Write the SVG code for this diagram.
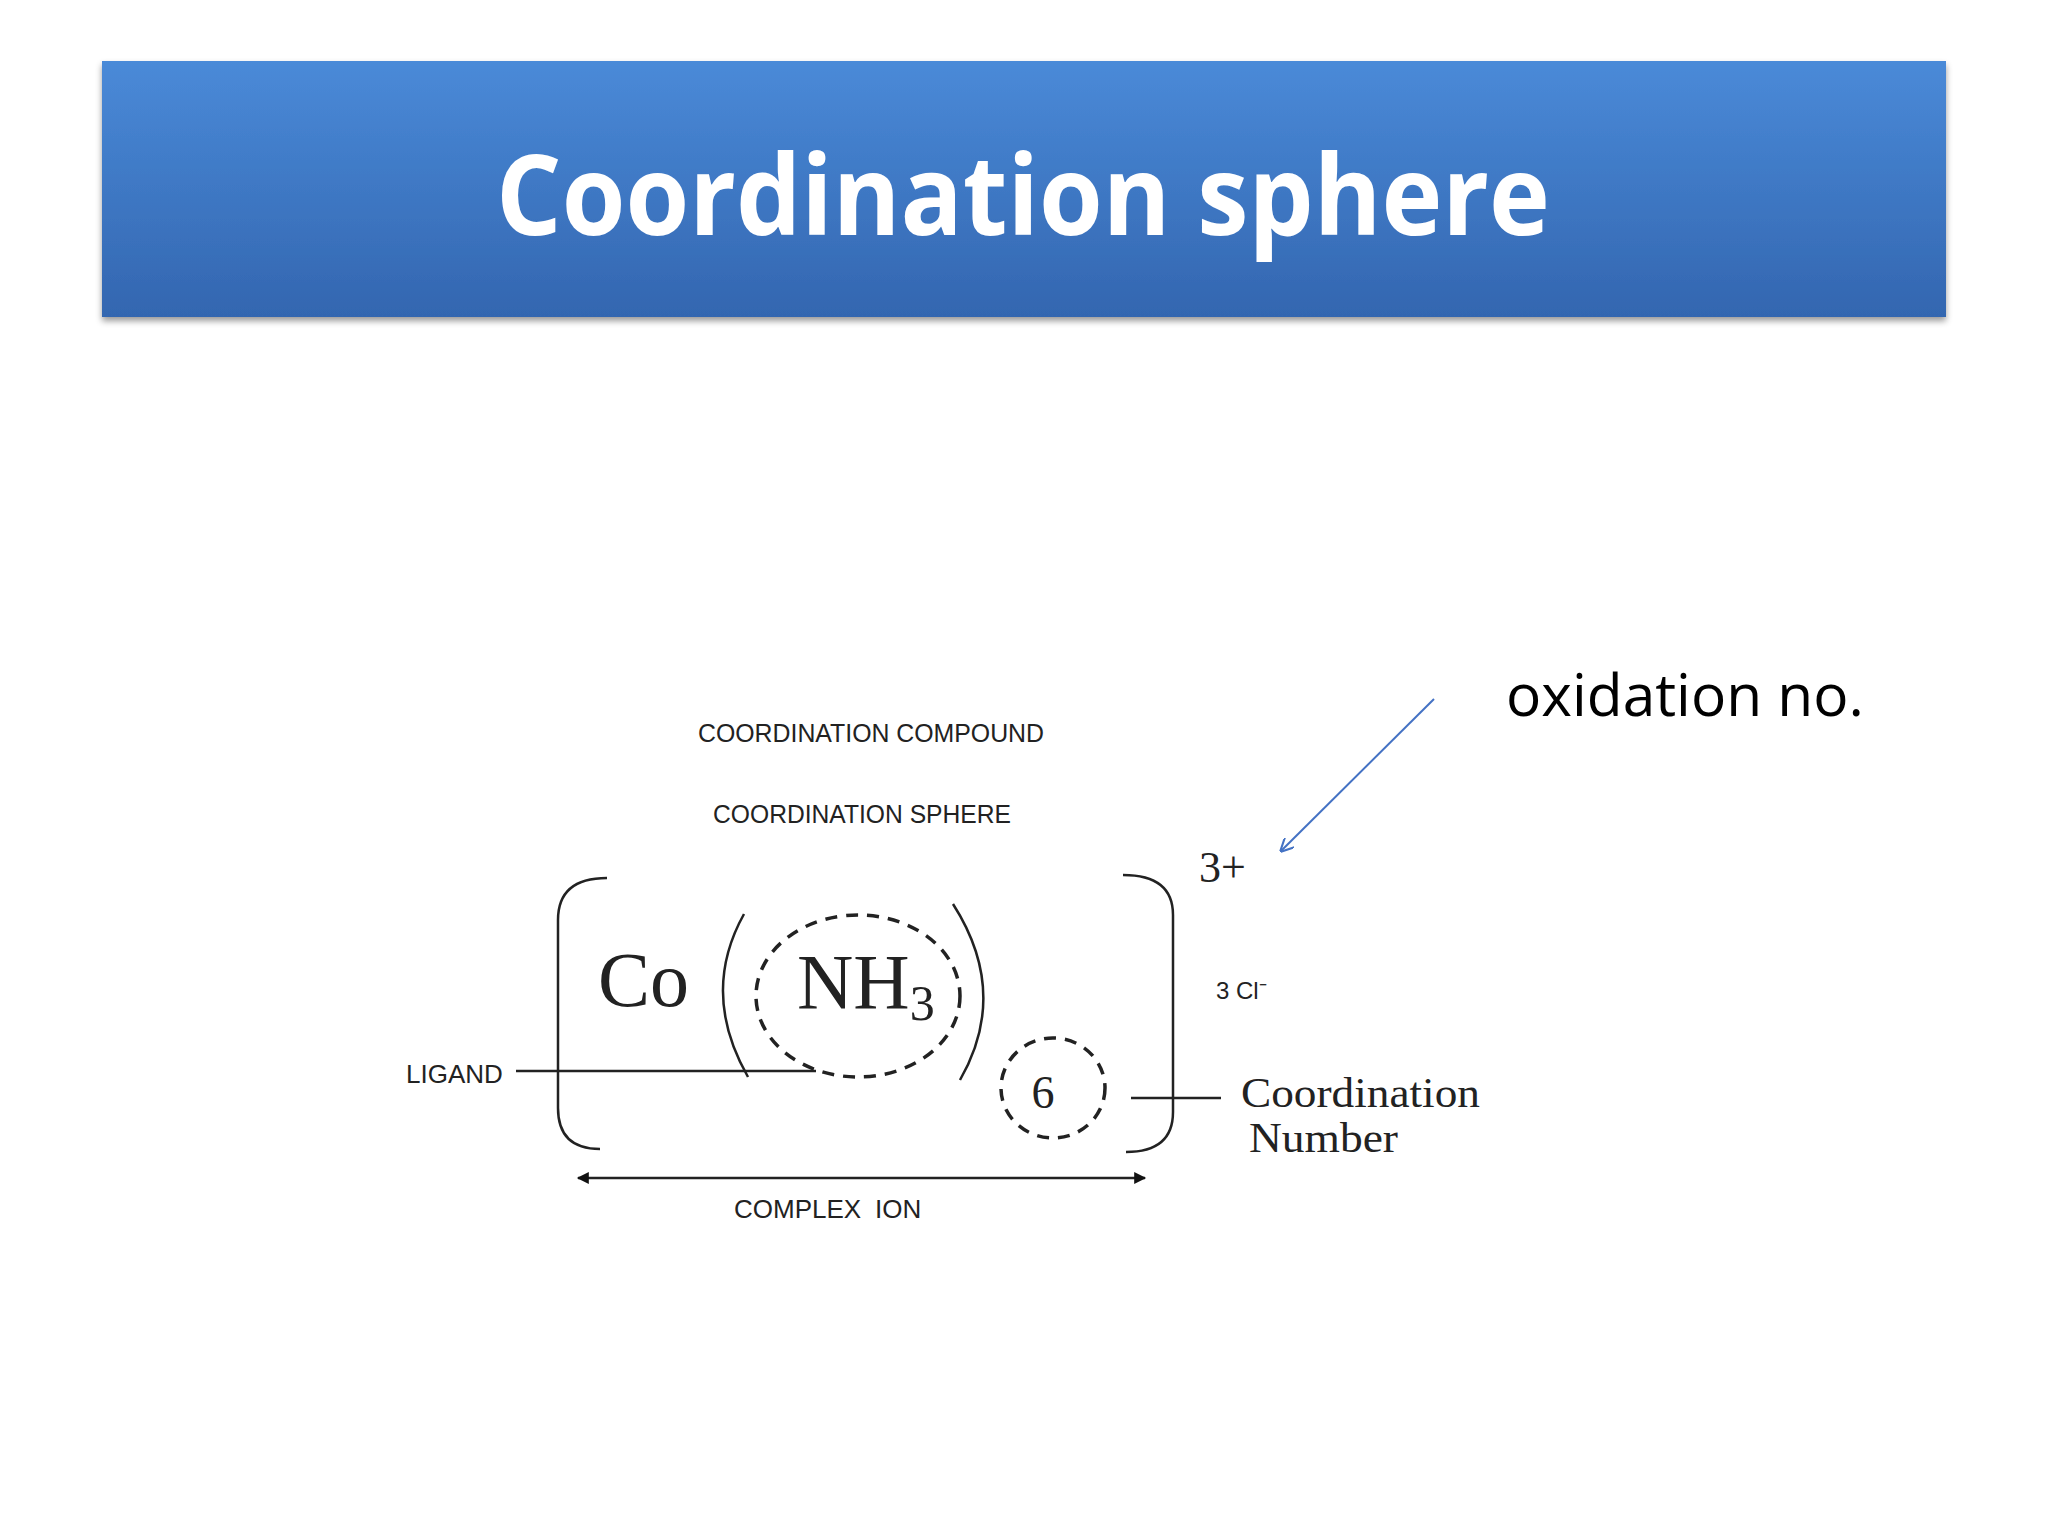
<svg xmlns="http://www.w3.org/2000/svg" width="2048" height="1536" viewBox="0 0 2048 1536">
<defs>
<linearGradient id="bg" x1="0" y1="0" x2="0" y2="1"><stop offset="0" stop-color="#4a8ad8"/><stop offset="1" stop-color="#3366b0"/></linearGradient>
<filter id="sh" x="-5%" y="-10%" width="110%" height="130%"><feDropShadow dx="0" dy="4" stdDeviation="3" flood-opacity="0.4"/></filter>
<marker id="bl" viewBox="0 0 10 10" refX="9" refY="5" markerWidth="14" markerHeight="14" orient="auto" markerUnits="userSpaceOnUse"><path d="M0 0 L10 5 L0 10" fill="none" stroke="#4472c4" stroke-width="1.5"/></marker>
<marker id="ba" viewBox="0 0 10 10" refX="9" refY="5" markerWidth="16" markerHeight="12" orient="auto-start-reverse" markerUnits="userSpaceOnUse"><path d="M0 0 L10 5 L0 10 Z" fill="#111"/></marker>
<style>
.sans{font-family:"Liberation Sans",Arial,sans-serif;fill:#222}
.ser{font-family:"Liberation Serif","Times New Roman",serif;fill:#222}
.ln{stroke:#222;stroke-width:2.5;fill:none}
.dash{stroke:#222;stroke-width:3.5;fill:none;stroke-dasharray:12 9}
</style>
</defs>
<rect width="2048" height="1536" fill="#fff"/>
<g id="banner">
<rect x="102" y="61" width="1844" height="256" fill="url(#bg)" filter="url(#sh)"/>
<text x="1023" y="235" text-anchor="middle" font-family="Open Sans,sans-serif" font-weight="bold" font-size="112" fill="#fff" textLength="1054" lengthAdjust="spacingAndGlyphs">Coordination sphere</text>
</g>
<g id="oxidation"><text x="1506" y="716" font-family="Open Sans,sans-serif" font-size="58" fill="#000" textLength="358" lengthAdjust="spacingAndGlyphs">oxidation no.</text></g>
<g id="labels">
<text class="sans" x="871" y="742" text-anchor="middle" font-size="26" textLength="346" lengthAdjust="spacingAndGlyphs">COORDINATION COMPOUND</text>
<text class="sans" x="862" y="823" text-anchor="middle" font-size="26" textLength="298" lengthAdjust="spacingAndGlyphs">COORDINATION SPHERE</text>
<text class="sans" x="406" y="1083" font-size="26">LIGAND</text>
<text class="sans" x="1216" y="999" font-size="24">3 Cl⁻</text>
<text class="sans" x="734" y="1218" font-size="26">COMPLEX</text>
<text class="sans" x="875" y="1218" font-size="26">ION</text>
<text class="ser" x="1199" y="882" font-size="44">3+</text>
<text class="ser" x="1241" y="1107" font-size="42" textLength="239" lengthAdjust="spacingAndGlyphs">Coordination</text>
<text class="ser" x="1249" y="1152" font-size="42" textLength="149" lengthAdjust="spacingAndGlyphs">Number</text>
</g>
<g id="complex">
<path class="ln" d="M607 878 Q558 878 558 920 L558 1108 Q558 1149 600 1149"/>
<path class="ln" d="M1123 875 Q1173 875 1173 915 L1173 1112 Q1173 1152 1126 1152"/>
<text class="ser" x="598" y="1006" font-size="78">Co</text>
<path class="ln" d="M744 914 Q700 993 748 1077"/>
<path class="ln" d="M953 904 Q1010 993 960 1080"/>
<ellipse class="dash" cx="858" cy="996" rx="102" ry="81"/>
<text class="ser" x="797" y="1008" font-size="78">NH<tspan font-size="50" dy="12">3</tspan></text>
<ellipse class="dash" cx="1053" cy="1088" rx="52" ry="50"/>
<text class="ser" x="1043" y="1108" font-size="46" text-anchor="middle">6</text>
</g>
<g id="connectors">
<line x1="1434" y1="699" x2="1281" y2="851" stroke="#4472c4" stroke-width="2" marker-end="url(#bl)"/>
<line class="ln" x1="516" y1="1071" x2="816" y2="1071"/>
<line class="ln" x1="1131" y1="1098" x2="1221" y2="1098"/>
<line class="ln" x1="578" y1="1178" x2="1145" y2="1178" stroke-width="3" marker-start="url(#ba)" marker-end="url(#ba)"/>
</g>
</svg>
